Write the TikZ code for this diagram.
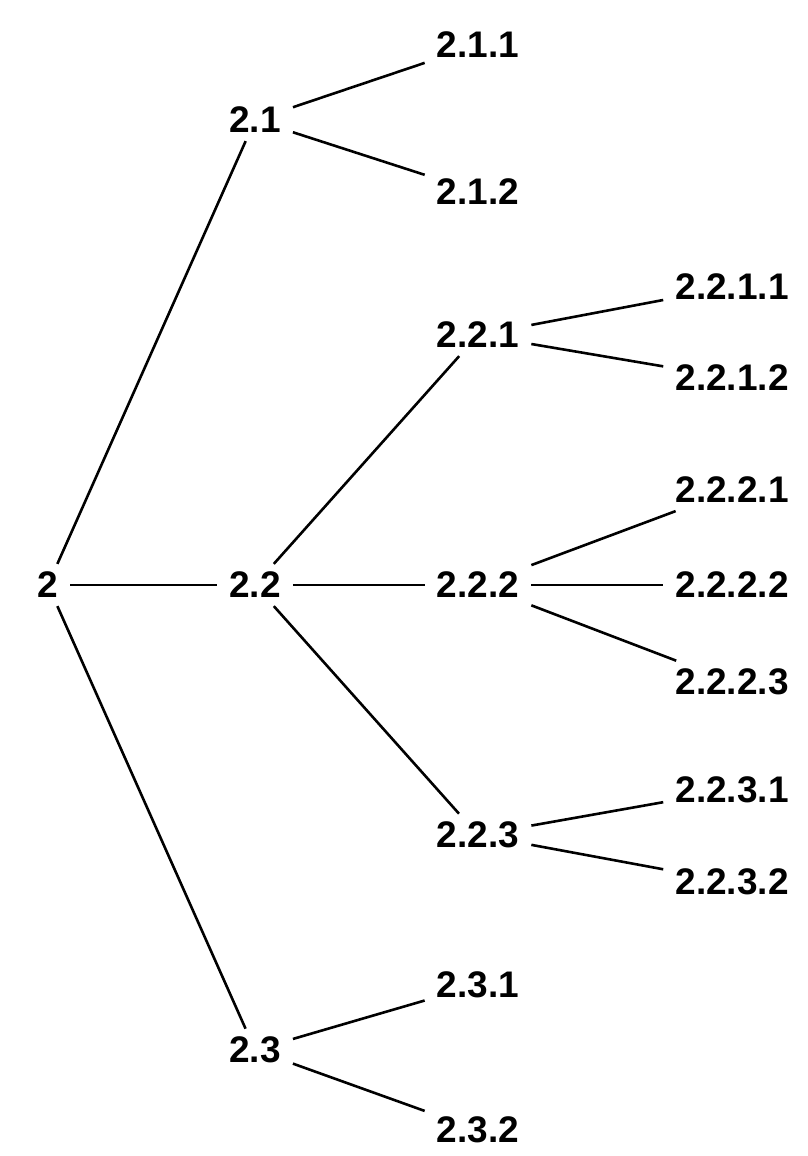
\documentclass[tikz,border=0pt]{standalone}
\usepackage{fontspec}
\setmainfont{Liberation Sans}
\begin{document}
\begin{tikzpicture}[x=1pt,y=-1pt,
  lab/.style={font=\bfseries\fontsize{37}{37}\selectfont, inner xsep=12pt, inner ysep=8pt},
  edge/.style={line width=2.6pt}]
\useasboundingbox (0,0) rectangle (808,1156);
\node[lab] (n2) at (48,585) {2};
\node[lab] (n21) at (255,120) {2.1};
\node[lab] (n22) at (255,585) {2.2};
\node[lab] (n23) at (255,1050) {2.3};
\node[lab] (n211) at (478,45) {2.1.1};
\node[lab] (n212) at (478,192) {2.1.2};
\node[lab] (n221) at (478,335) {2.2.1};
\node[lab] (n222) at (478,585) {2.2.2};
\node[lab] (n223) at (478,835) {2.2.3};
\node[lab] (n231) at (478,985) {2.3.1};
\node[lab] (n232) at (478,1130) {2.3.2};
\node[lab] (n2211) at (732,287) {2.2.1.1};
\node[lab] (n2212) at (732,378) {2.2.1.2};
\node[lab] (n2221) at (732,490) {2.2.2.1};
\node[lab] (n2222) at (732,585) {2.2.2.2};
\node[lab] (n2223) at (732,682) {2.2.2.3};
\node[lab] (n2231) at (732,790) {2.2.3.1};
\node[lab] (n2232) at (732,882) {2.2.3.2};
\foreach \a/\b in {n2/n21,n2/n22,n2/n23,n21/n211,n21/n212,n22/n221,n22/n222,n22/n223,
  n23/n231,n23/n232,n221/n2211,n221/n2212,n222/n2221,n222/n2222,n222/n2223,n223/n2231,n223/n2232}
  \draw[edge] (\a) -- (\b);
\end{tikzpicture}
\end{document}
